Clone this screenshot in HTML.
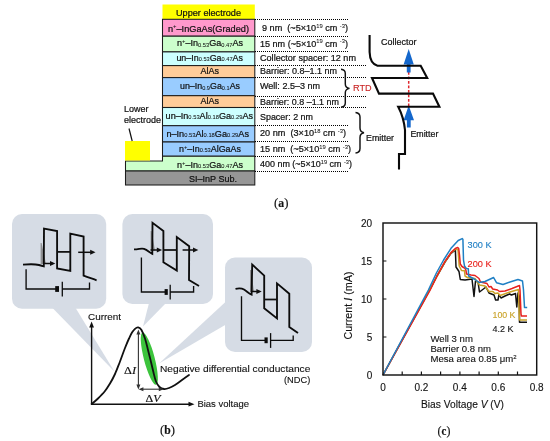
<!DOCTYPE html>
<html><head><meta charset="utf-8"><title>RTD figure</title>
<style>
html,body{margin:0;padding:0;background:#fff;}
svg{display:block;}
text{font-family:"Liberation Sans",sans-serif;fill:#111;stroke:#111;stroke-width:0.22px;paint-order:stroke;}
.ar{font-size:9.15px;}
.cb{font-size:9.6px;stroke-width:0.12px;}
.sf{font-family:"Liberation Serif",serif;stroke-width:0.15px;}
.sub{font-size:5.8px;stroke-width:0.05px;}
</style></head><body>
<svg width="550" height="441" viewBox="0 0 550 441">
<rect x="0" y="0" width="550" height="441" fill="#ffffff"/>

<g id="stack" stroke="#1c1c1c" stroke-width="1.05">
<rect x="162.5" y="4.5" width="92.3" height="14.5" fill="#FFFF00" stroke="none"/>
<rect x="162.5" y="19.3" width="92.3" height="16.9" fill="#FF99CC"/>
<rect x="162.5" y="36.2" width="92.3" height="15.7" fill="#CCFFCC"/>
<rect x="162.5" y="51.9" width="92.3" height="13.7" fill="#CCFFFF"/>
<rect x="162.5" y="65.6" width="92.3" height="12.0" fill="#FFCC99"/>
<rect x="162.5" y="77.6" width="92.3" height="18.1" fill="#99CCFF"/>
<rect x="162.5" y="95.7" width="92.3" height="11.8" fill="#FFCC99"/>
<rect x="162.5" y="107.5" width="92.3" height="18.2" fill="#CCFFFF"/>
<rect x="162.5" y="125.7" width="92.3" height="16.3" fill="#99CCFF"/>
<rect x="162.5" y="142.0" width="92.3" height="14.2" fill="#99CCFF"/>
<path d="M125.5,161 L162.5,161 L162.5,156.2 L254.8,156.2 L254.8,171 L125.5,171 Z" fill="#CCFFCC"/>
<rect x="125.5" y="171" width="129.3" height="14" fill="#969696"/>
<rect x="125" y="141" width="25" height="19.5" fill="#FFFF00" stroke="none"/>
<path d="M129,128.5 L132.2,141" fill="none" stroke="#111" stroke-width="1.2"/>
</g>
<g class="ar" id="layerlabels">
<text x="176.0" y="15.6" textLength="65.0" lengthAdjust="spacingAndGlyphs">Upper electrode</text>
<text x="168.0" y="31.6" textLength="81.0" lengthAdjust="spacingAndGlyphs">n<tspan class="sub" dy="-3.2">+</tspan><tspan dy="3.2">–InGaAs(Graded)</tspan></text>
<text x="177.0" y="46.4" textLength="66.0" lengthAdjust="spacingAndGlyphs">n<tspan class="sub" dy="-3.2">+</tspan><tspan dy="3.2">–In</tspan><tspan class="sub" dy="0.3">0.53</tspan><tspan dy="-0.3">Ga</tspan><tspan class="sub" dy="0.3">0.47</tspan><tspan dy="-0.3">As</tspan></text>
<text x="176.4" y="61.0" textLength="66.6" lengthAdjust="spacingAndGlyphs">un–In<tspan class="sub" dy="0.3">0.53</tspan><tspan dy="-0.3">Ga</tspan><tspan class="sub" dy="0.3">0.47</tspan><tspan dy="-0.3">As</tspan></text>
<text x="200.6" y="74.0" textLength="18.5" lengthAdjust="spacingAndGlyphs">AlAs</text>
<text x="180.0" y="89.0" textLength="60.0" lengthAdjust="spacingAndGlyphs">un–In<tspan class="sub" dy="1.1">0.9</tspan><tspan dy="-1.1">Ga</tspan><tspan class="sub" dy="1.1">0.1</tspan><tspan dy="-1.1">As</tspan></text>
<text x="200.6" y="104.4" textLength="18.5" lengthAdjust="spacingAndGlyphs">AlAs</text>
<text x="165.6" y="119.0" textLength="87.4" lengthAdjust="spacingAndGlyphs">un–In<tspan class="sub" dy="0.3">0.53</tspan><tspan dy="-0.3">Al</tspan><tspan class="sub" dy="0.3">0.18</tspan><tspan dy="-0.3">Ga</tspan><tspan class="sub" dy="0.3">0.29</tspan><tspan dy="-0.3">As</tspan></text>
<text x="166.4" y="137.0" textLength="82.6" lengthAdjust="spacingAndGlyphs">n–In<tspan class="sub" dy="0.3">0.53</tspan><tspan dy="-0.3">Al</tspan><tspan class="sub" dy="0.3">0.18</tspan><tspan dy="-0.3">Ga</tspan><tspan class="sub" dy="0.3">0.29</tspan><tspan dy="-0.3">As</tspan></text>
<text x="179.0" y="152.0" textLength="62.0" lengthAdjust="spacingAndGlyphs">n<tspan class="sub" dy="-3.2">+</tspan><tspan dy="3.2">–In</tspan><tspan class="sub" dy="0.3">0.53</tspan><tspan dy="-0.3">AlGaAs</tspan></text>
<text x="177.0" y="168.0" textLength="66.0" lengthAdjust="spacingAndGlyphs">n<tspan class="sub" dy="-3.2">+</tspan><tspan dy="3.2">–In</tspan><tspan class="sub" dy="0.3">0.53</tspan><tspan dy="-0.3">Ga</tspan><tspan class="sub" dy="0.3">0.47</tspan><tspan dy="-0.3">As</tspan></text>
<text x="189.0" y="181.6" textLength="48.0" lengthAdjust="spacingAndGlyphs">SI–InP Sub.</text>
</g>
<text class="ar" x="124" y="112" textLength="24.5" lengthAdjust="spacingAndGlyphs">Lower</text>
<text class="ar" x="124" y="122.5" textLength="37" lengthAdjust="spacingAndGlyphs">electrode</text>
<g id="dots" stroke="#000" stroke-width="1.15" stroke-dasharray="1 1" fill="none">
<path d="M255,19.5 H348.0"/>
<path d="M255,36.5 H348.0"/>
<path d="M255,51.5 H348.0"/>
<path d="M255,65.5 H366.0"/>
<path d="M255,77.5 H366.0"/>
<path d="M255,96.5 H366.0"/>
<path d="M255,107.5 H366.0"/>
<path d="M255,125.5 H348.0"/>
<path d="M255,141.5 H348.0"/>
<path d="M255,156.5 H348.0"/>
<path d="M255,171.5 H348.0"/>
</g>
<g class="ar" id="rightlabels" xml:space="preserve">
<text x="262.0" y="31.0" textLength="86.0" lengthAdjust="spacingAndGlyphs">9 nm&#160;&#160;(~5×10<tspan class="sub" dy="-3.2">19</tspan><tspan dy="3.2"> cm </tspan><tspan class="sub" dy="-3.2">-3</tspan><tspan dy="3.2">)</tspan></text>
<text x="260.0" y="46.6" textLength="88.0" lengthAdjust="spacingAndGlyphs">15 nm (~5×10<tspan class="sub" dy="-3.2">19</tspan><tspan dy="3.2"> cm </tspan><tspan class="sub" dy="-3.2">-3</tspan><tspan dy="3.2">)</tspan></text>
<text x="260.0" y="61.0" textLength="96.0" lengthAdjust="spacingAndGlyphs">Collector spacer: 12 nm</text>
<text x="260.0" y="74.0" textLength="77.0" lengthAdjust="spacingAndGlyphs">Barrier: 0.8–1.1 nm</text>
<text x="260.0" y="88.6" textLength="60.0" lengthAdjust="spacingAndGlyphs">Well: 2.5–3 nm</text>
<text x="260.0" y="105.0" textLength="79.0" lengthAdjust="spacingAndGlyphs">Barrier: 0.8 –1.1 nm</text>
<text x="260.0" y="119.6" textLength="53.0" lengthAdjust="spacingAndGlyphs">Spacer: 2 nm</text>
<text x="260.0" y="136.0" textLength="86.0" lengthAdjust="spacingAndGlyphs">20 nm&#160;&#160;(3×10<tspan class="sub" dy="-3.2">18</tspan><tspan dy="3.2"> cm </tspan><tspan class="sub" dy="-3.2">-3</tspan><tspan dy="3.2">)</tspan></text>
<text x="260.0" y="152.0" textLength="91.0" lengthAdjust="spacingAndGlyphs">15 nm&#160;&#160;(~5×10<tspan class="sub" dy="-3.2">19</tspan><tspan dy="3.2"> cm </tspan><tspan class="sub" dy="-3.2">-3</tspan><tspan dy="3.2">)</tspan></text>
<text x="260.0" y="167.0" textLength="92.0" lengthAdjust="spacingAndGlyphs">400 nm (~5×10<tspan class="sub" dy="-3.2">19</tspan><tspan dy="3.2"> cm </tspan><tspan class="sub" dy="-3.2">-3</tspan><tspan dy="3.2">)</tspan></text>
</g>
<g fill="none" stroke="#111" stroke-width="1.45">
<path d="M341,69.3 Q345.3,69.8 345.3,73.5 L345.3,84 Q345.3,87.8 349.5,88.4 Q345.3,89 345.3,92.8 L345.3,103 Q345.3,106.7 341,107.2"/>
<path d="M355.5,112.5 Q360,113 360,117 L360,128 Q360,132 364,132.7 Q360,133.4 360,137.4 L360,148.5 Q360,152.5 355.5,153"/>
</g>
<text class="ar" x="353" y="91.4" textLength="18.6" lengthAdjust="spacingAndGlyphs" style="fill:#C81E1E;stroke:#C81E1E;stroke-width:0.1px">RTD</text>
<text class="ar" x="366" y="141.4" textLength="28" lengthAdjust="spacingAndGlyphs">Emitter</text>
<path d="M408.7,72 V106" stroke="#E0262C" stroke-width="1.5" stroke-dasharray="2.8 1.7" fill="none"/>
<path d="M408.7,49 L413.8,64.6 L410.6,64.6 L410.6,72.5 L406.8,72.5 L406.8,64.6 L403.6,64.6 Z" fill="#1467CC"/>
<path d="M408.7,105.5 L414,120.3 L410.7,120.3 L410.7,127.5 L406.9,127.5 L406.9,120.3 L403.6,120.3 Z" fill="#1467CC"/>
<path d="M369.6,35 L369.6,52 C369.8,58.5 371.2,64 377.5,65.7 L420.7,65.7 L427.2,78 L372,78 L379,93.6 L433,93.6 L439.4,106.7 L398.2,106.7 C401.5,113 404,120 405,130 L405,154 L399,154 L399,169.4" fill="none" stroke="#0a0a0a" stroke-width="2.1" stroke-linejoin="miter"/>
<text class="ar" x="381" y="45" textLength="35.4" lengthAdjust="spacingAndGlyphs">Collector</text>
<text class="ar" x="410.4" y="137" textLength="28" lengthAdjust="spacingAndGlyphs">Emitter</text>
<text class="sf" x="274" y="207" style="font-size:13px" textLength="14.4" lengthAdjust="spacingAndGlyphs">(<tspan font-weight="bold" style="font-size:12px">a</tspan>)</text>
<g id="callouts" fill="#D6DCE5" stroke="none">
<rect x="12" y="214" width="94.2" height="94.8" rx="10" ry="10"/>
<path d="M51.6,307 L75,307 L114.4,371.6 Z"/>
<rect x="122.4" y="214" width="90.6" height="90" rx="10" ry="10"/>
<path d="M149,303 L166,303 L143,326.5 Z"/>
<rect x="225" y="257.6" width="87" height="94.4" rx="10" ry="10"/>
<path d="M226,301.5 L226,324.5 L159,363.6 Z"/>
</g>
<g id="band1">
<path d="M40.6,243 L41.6,243 L46,264 L40.6,264 Z" fill="#777" fill-opacity="0.75" stroke="none"/>
<path d="M23,264.6 C30,264 36,264.2 39,265 C41,265.6 42.5,266 43.8,266.3 L44,228.5 L57.1,231 L57.1,268.5 L70.3,270.8 L70.3,233.6 L83.6,236.5 L83.6,275.6 C88,277.4 92,278.6 96.6,280.3" fill="none" stroke="#0c0c0c" stroke-width="1.85" stroke-linejoin="miter"/>
<path d="M57.1,251.9 H70.3" fill="none" stroke="#111" stroke-width="1.75"/>
<path d="M43.3,263.5 H53.0" fill="none" stroke="#0c0c0c" stroke-width="1.5"/>
<path d="M55.3,263.5 L50.0,261.0 L50.0,266.0 Z" fill="#111"/>
<path d="M78.2,252.3 H93.2" fill="none" stroke="#0c0c0c" stroke-width="1.5"/>
<path d="M95.5,252.3 L90.2,249.8 L90.2,254.8 Z" fill="#111"/>
<path d="M26.1,269.3 V289.0 H57.1 M62.3,289.0 H89.5 V282.4" fill="none" stroke="#0c0c0c" stroke-width="1.35"/>
<rect x="55.2" y="286.1" width="3.8" height="5.8" fill="#0c0c0c"/>
<path d="M62.3,281.8 V296.6" fill="none" stroke="#0c0c0c" stroke-width="1.3"/>
</g>
<g id="band2">
<path d="M150.6,231 L151.6,231 L155,250.5 L150.6,250.5 Z" fill="#777" fill-opacity="0.75" stroke="none"/>
<path d="M134,249.4 C139,249.4 141,247.9 144,248.8 C147.5,250 149.5,252.5 152.3,253.8 L152.5,222.8 L163.4,231 L163.4,262.3 L176.8,270.5 L176.8,237.1 L189.2,246.3 L189,280 L199,286" fill="none" stroke="#0c0c0c" stroke-width="1.85" stroke-linejoin="miter"/>
<path d="M163.4,250 H176.8" fill="none" stroke="#111" stroke-width="1.75"/>
<path d="M150.5,250.0 H159.8" fill="none" stroke="#0c0c0c" stroke-width="1.5"/>
<path d="M162.1,250.0 L156.8,247.5 L156.8,252.5 Z" fill="#111"/>
<path d="M182.6,250.0 H196.0" fill="none" stroke="#0c0c0c" stroke-width="1.5"/>
<path d="M198.3,250.0 L193.0,247.5 L193.0,252.5 Z" fill="#111"/>
<path d="M141.4,257.4 V292.0 H166.2 M170.2,292.0 H193.6 V286.0" fill="none" stroke="#0c0c0c" stroke-width="1.35"/>
<rect x="164.6" y="289.1" width="3.2" height="5.8" fill="#0c0c0c"/>
<path d="M170.2,284.8 V299.6" fill="none" stroke="#0c0c0c" stroke-width="1.3"/>
</g>
<g id="band3">
<path d="M250,270 L251,270 L254,292 L250,292 Z" fill="#777" fill-opacity="0.75" stroke="none"/>
<path d="M235.5,288.8 C239,288 241.5,288 244,289.5 C247,291.3 249,293.6 251.6,294.6 L252.2,264.6 L264.2,275.6 L264.2,308.2 L277,318.4 L277,283.4 L289.3,293.8 L289.3,327 L298,333" fill="none" stroke="#0c0c0c" stroke-width="1.85" stroke-linejoin="miter"/>
<path d="M264.2,299.5 H277" fill="none" stroke="#111" stroke-width="1.75"/>
<path d="M251.0,291.5 H259.4" fill="none" stroke="#0c0c0c" stroke-width="1.5"/>
<path d="M261.7,291.5 L256.4,289.0 L256.4,294.0 Z" fill="#111"/>
<path d="M241.5,296.2 V340.3 H266.1 M270.6,340.3 H293.2 V335.5" fill="none" stroke="#0c0c0c" stroke-width="1.35"/>
<rect x="264.5" y="337.4" width="3.2" height="5.8" fill="#0c0c0c"/>
<path d="M270.6,333.1 V347.9" fill="none" stroke="#0c0c0c" stroke-width="1.3"/>
</g>
<ellipse cx="149.3" cy="358.6" rx="5.4" ry="27" transform="rotate(-14.5 149.3 358.6)" fill="#3CC43C"/>
<path d="M91.6,404.0 C92.7,403.1 95.8,400.7 98.0,398.5 C100.2,396.3 103.0,393.5 105.0,391.0 C107.0,388.5 108.3,386.3 110.0,383.5 C111.7,380.7 113.3,377.7 115.0,374.0 C116.7,370.3 118.3,365.8 120.0,361.5 C121.7,357.2 123.5,351.8 125.0,348.0 C126.5,344.2 127.8,341.1 129.0,338.5 C130.2,335.9 131.0,334.1 132.0,332.5 C133.0,330.9 134.0,329.7 135.0,328.8 C136.0,327.9 137.1,327.2 138.2,327.4 C139.3,327.6 140.4,328.1 141.5,330.0 C142.6,331.9 143.9,335.2 145.0,338.5 C146.1,341.8 147.0,346.1 148.0,350.0 C149.0,353.9 150.1,358.2 151.0,362.0 C151.9,365.8 152.7,369.2 153.5,372.5 C154.3,375.8 155.0,379.1 156.0,381.5 C157.0,383.9 158.2,385.8 159.5,387.0 C160.8,388.2 162.4,388.8 164.0,389.0 C165.6,389.2 167.2,388.7 169.0,388.0 C170.8,387.3 172.8,386.3 175.0,385.0 C177.2,383.7 179.7,381.7 182.0,380.0 C184.3,378.3 187.8,375.8 189.0,375.0" fill="none" stroke="#111" stroke-width="1.8" stroke-linecap="round"/>
<path d="M91.6,326 V404.2 H190" fill="none" stroke="#111" stroke-width="1.4"/>
<path d="M91.6,321.5 L94,327.5 L89.2,327.5 Z M194.5,404.2 L188.5,401.8 L188.5,406.6 Z" fill="#111"/>
<g stroke="#333" stroke-width="1.1" fill="none"><path d="M138.4,332 V387.5"/><path d="M141,389.2 H161"/></g>
<path d="M138.4,329.6 L140.4,334.4 L136.4,334.4 Z M138.4,389.4 L140.4,384.6 L136.4,384.6 Z M138.6,389.2 L143.4,387.2 L143.4,391.2 Z M163.6,389.2 L158.8,387.2 L158.8,391.2 Z" fill="#333"/>
<text class="cb" x="88" y="320" textLength="33" lengthAdjust="spacingAndGlyphs">Current</text>
<text class="cb" x="160" y="372" textLength="150.3" lengthAdjust="spacingAndGlyphs">Negative differential conductance</text>
<text class="cb" x="284" y="383.2" textLength="26.3" lengthAdjust="spacingAndGlyphs" style="font-size:9px">(NDC)</text>
<text class="cb" x="197.4" y="407.3" textLength="51.6" lengthAdjust="spacingAndGlyphs">Bias voltage</text>
<text class="sf" x="124" y="373.5" style="font-size:10.5px" textLength="12" lengthAdjust="spacingAndGlyphs">Δ<tspan font-style="italic">I</tspan></text>
<text class="sf" x="145.5" y="401.8" style="font-size:10.5px" textLength="15" lengthAdjust="spacingAndGlyphs">Δ<tspan font-style="italic">V</tspan></text>
<text class="sf" x="160" y="433.8" style="font-size:13px" textLength="15" lengthAdjust="spacingAndGlyphs">(<tspan font-weight="bold" style="font-size:12px">b</tspan>)</text>
<g id="chart">
<path d="M383.0,375.0 L428.8,291.5 L437.0,276.0 L445.0,262.2 L451.0,253.3 L454.5,250.6 L455.4,250.5 L456.0,267.0 L459.0,271.5 L460.3,279.5 L465.0,280.0 L472.0,279.0 L474.0,296.5 L475.5,281.0 L478.0,282.0 L479.5,292.0 L486.0,287.0 L489.0,293.0 L494.0,295.0 L495.6,300.0 L498.0,300.0 L499.0,294.5 L501.0,298.0 L505.0,296.0 L509.5,294.0 L511.5,295.0 L515.5,293.5 L516.8,307.0 L518.0,293.0 L519.2,296.0 L519.5,322.2 L527.0,322.2" fill="none" stroke="#111" stroke-width="1.5" stroke-linejoin="round"/>
<path d="M383.0,375.0 L429.4,290.5 L437.5,275.2 L445.0,261.8 L451.0,252.8 L455.5,249.2 L458.0,249.6 L459.2,266.0 L460.5,268.5 L461.5,270.5 L464.5,270.8 L465.0,276.0 L467.5,277.5 L475.0,278.5 L477.0,281.5 L479.5,285.0 L485.0,286.0 L489.0,291.5 L493.0,291.6 L495.0,293.5 L498.0,293.0 L500.0,295.5 L503.0,294.5 L510.0,292.0 L515.0,290.5 L518.5,289.5 L519.2,314.0 L519.5,320.0 L527.0,320.0" fill="none" stroke="#C9A227" stroke-width="1.5" stroke-linejoin="round"/>
<path d="M383.0,375.0 L430.2,290.0 L437.8,274.5 L445.0,261.4 L451.0,252.6 L455.3,248.5 L457.7,247.4 L458.7,248.5 L459.5,255.0 L460.3,264.0 L462.0,266.5 L465.0,268.3 L466.0,270.5 L466.5,274.0 L471.0,275.0 L475.0,275.5 L479.0,278.5 L480.5,282.0 L487.0,283.5 L489.0,287.0 L491.0,286.5 L492.7,289.0 L497.5,290.0 L499.5,291.5 L505.0,291.0 L512.0,288.5 L519.5,285.5 L520.0,290.0 L521.0,314.0 L521.4,316.0 L527.0,316.0" fill="none" stroke="#E8201C" stroke-width="1.5" stroke-linejoin="round"/>
<path d="M383.0,375.0 L428.4,290.0 L436.4,273.0 L443.6,260.0 L451.0,248.3 L458.2,240.5 L462.2,238.6 L462.9,239.2 L463.5,260.0 L464.5,266.0 L466.5,268.6 L468.3,268.8 L468.6,276.0 L475.0,279.5 L479.0,282.5 L485.0,281.5 L493.6,277.5 L496.5,282.7 L503.0,284.5 L510.0,282.0 L518.0,279.5 L522.5,281.0 L523.5,290.0 L524.5,307.5 L527.2,307.5" fill="none" stroke="#1F7FC4" stroke-width="1.5" stroke-linejoin="round"/>
<rect x="383.0" y="223.0" width="153.7" height="152.0" fill="none" stroke="#141414" stroke-width="1.45"/>
<path d="M402.2,375.0 v-3.4 M421.4,375.0 v-3.4 M440.6,375.0 v-3.4 M459.9,375.0 v-3.4 M479.1,375.0 v-3.4 M498.3,375.0 v-3.4 M517.5,375.0 v-3.4 M383.0,337.0 h3.4 M383.0,299.0 h3.4 M383.0,261.0 h3.4 " fill="none" stroke="#141414" stroke-width="1.2"/>
<text class="cb" x="372.2" y="378.6" text-anchor="end" style="font-size:10px">0</text>
<text class="cb" x="372.2" y="340.6" text-anchor="end" style="font-size:10px">5</text>
<text class="cb" x="372.2" y="302.6" text-anchor="end" style="font-size:10px">10</text>
<text class="cb" x="372.2" y="264.6" text-anchor="end" style="font-size:10px">15</text>
<text class="cb" x="372.2" y="226.6" text-anchor="end" style="font-size:10px">20</text>
<text class="cb" x="383.0" y="390.6" text-anchor="middle" style="font-size:10px">0</text>
<text class="cb" x="421.4" y="390.6" text-anchor="middle" style="font-size:10px">0.2</text>
<text class="cb" x="459.8" y="390.6" text-anchor="middle" style="font-size:10px">0.4</text>
<text class="cb" x="498.3" y="390.6" text-anchor="middle" style="font-size:10px">0.6</text>
<text class="cb" x="536.7" y="390.6" text-anchor="middle" style="font-size:10px">0.8</text>
<text class="cb" x="421" y="407.7" textLength="83" lengthAdjust="spacingAndGlyphs" style="font-size:10px">Bias Voltage <tspan font-style="italic">V</tspan> (V)</text>
<text class="cb" transform="translate(351.6 339.6) rotate(-90)" textLength="68" lengthAdjust="spacingAndGlyphs" style="font-size:10px">Current <tspan font-style="italic">I</tspan> (mA)</text>
<text class="cb" x="467.6" y="248.4" textLength="24" lengthAdjust="spacingAndGlyphs" style="fill:#1F7FC4;stroke:#1F7FC4">300 K</text>
<text class="cb" x="467.6" y="266.6" textLength="24" lengthAdjust="spacingAndGlyphs" style="fill:#E8201C;stroke:#E8201C">200 K</text>
<text class="cb" x="492.5" y="317.5" textLength="23" lengthAdjust="spacingAndGlyphs" style="fill:#C9A227;stroke:#C9A227">100 K</text>
<text class="cb" x="492.5" y="331.5" textLength="21" lengthAdjust="spacingAndGlyphs">4.2 K</text>
<text class="cb" x="430.5" y="341.7" textLength="42.4" lengthAdjust="spacingAndGlyphs">Well 3 nm</text>
<text class="cb" x="430.5" y="352" textLength="60.4" lengthAdjust="spacingAndGlyphs">Barrier 0.8 nm</text>
<text class="cb" x="430.5" y="362.2" textLength="86" lengthAdjust="spacingAndGlyphs">Mesa area 0.85 μm<tspan style="font-size:6px" dy="-3.6">2</tspan></text>
<text class="sf" x="437.6" y="434.6" style="font-size:13px" textLength="12.8" lengthAdjust="spacingAndGlyphs">(<tspan font-weight="bold" style="font-size:12px">c</tspan>)</text>
</g>
</svg>
</body></html>
